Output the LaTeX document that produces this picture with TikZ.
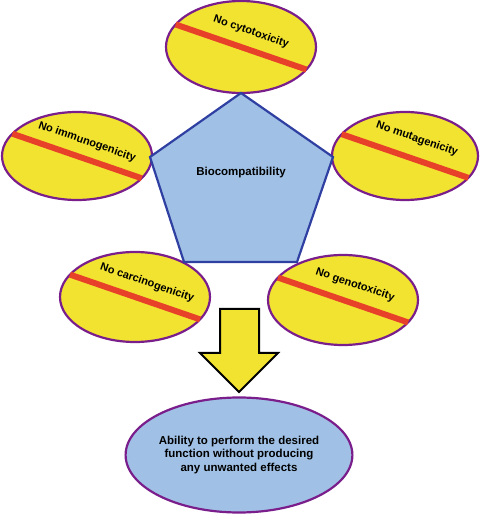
\documentclass[tikz,border=0pt]{standalone}
\usepackage{fontspec}
\setmainfont{Liberation Sans}
\usetikzlibrary{shapes.geometric,calc}
\definecolor{ylw}{HTML}{F2E331}
\definecolor{prp}{HTML}{7A1E8C}
\definecolor{redbar}{HTML}{E8412A}
\definecolor{lblue}{HTML}{A0C1E5}
\definecolor{dblue}{HTML}{2F40A2}
\tikzset{
  neg/.style={ellipse, draw=prp, fill=ylw, line width=2.2pt, inner sep=0pt},
  bar/.style={redbar, line width=6pt, shorten <=1.2pt, shorten >=1.2pt},
  lbl/.style={font=\fontsize{11}{13}\selectfont\bfseries, rotate=-19, inner sep=0pt},
  goal/.style={ellipse, draw=prp, fill=lblue, line width=2.2pt, inner sep=0pt, align=center,
    font=\fontsize{11.5}{13.5}\selectfont\bfseries},
}
\begin{document}
\begin{tikzpicture}[x=1pt,y=1pt]
\useasboundingbox (0,0) rectangle (483,515);
% negative-effect ellipses
\node[neg, minimum width=150, minimum height=92] (top) at (241,468) {};
\node[neg, minimum width=150, minimum height=88] (lft) at (77,359) {};
\node[neg, minimum width=146, minimum height=88] (rgt) at (405,359) {};
\node[neg, minimum width=150, minimum height=90] (bl) at (135,218) {};
\node[neg, minimum width=150, minimum height=90] (br) at (343,215) {};
\foreach \n in {top,lft,rgt,bl,br}{
  \draw[bar] (\n.161) -- (\n.-19);
}
\node[lbl] (topt) at ($(top.center)+(10,15)$) {No cytotoxicity};
\node[lbl] (lftt) at ($(lft.center)+(10,14)$) {No immunogenicity};
\node[lbl] (rgtt) at ($(rgt.center)+(12,17)$) {No mutagenicity};
\node[lbl] (blt) at ($(bl.center)+(12,14)$) {No carcinogenicity};
\node[lbl] (brt) at ($(br.center)+(12,15)$) {No genotoxicity};
% pentagon
\coordinate (p1) at (241,422);
\coordinate (p2) at (333,358);
\coordinate (p3) at (297,253);
\coordinate (p4) at (184,253);
\coordinate (p5) at (150,358);
\draw[dblue, fill=lblue, line width=2.2pt, line join=miter] (p1) -- (p2) -- (p3) -- (p4) -- (p5) -- cycle;
\node[font=\fontsize{11.5}{13.5}\selectfont\bfseries] (bio) at (241,342) {Biocompatibility};
% block arrow
\draw[black, fill=ylw, line width=2pt, line join=miter]
  (220,206) -- (259,206) -- (259,162) -- (278,162) -- (239,123) -- (200,162) -- (220,162) -- cycle;
% goal
\node[goal, minimum width=188, minimum height=115] (goal) at (239,60)
  {Ability to perform the desired\\function without producing\\any unwanted effects};
\end{tikzpicture}
\end{document}
